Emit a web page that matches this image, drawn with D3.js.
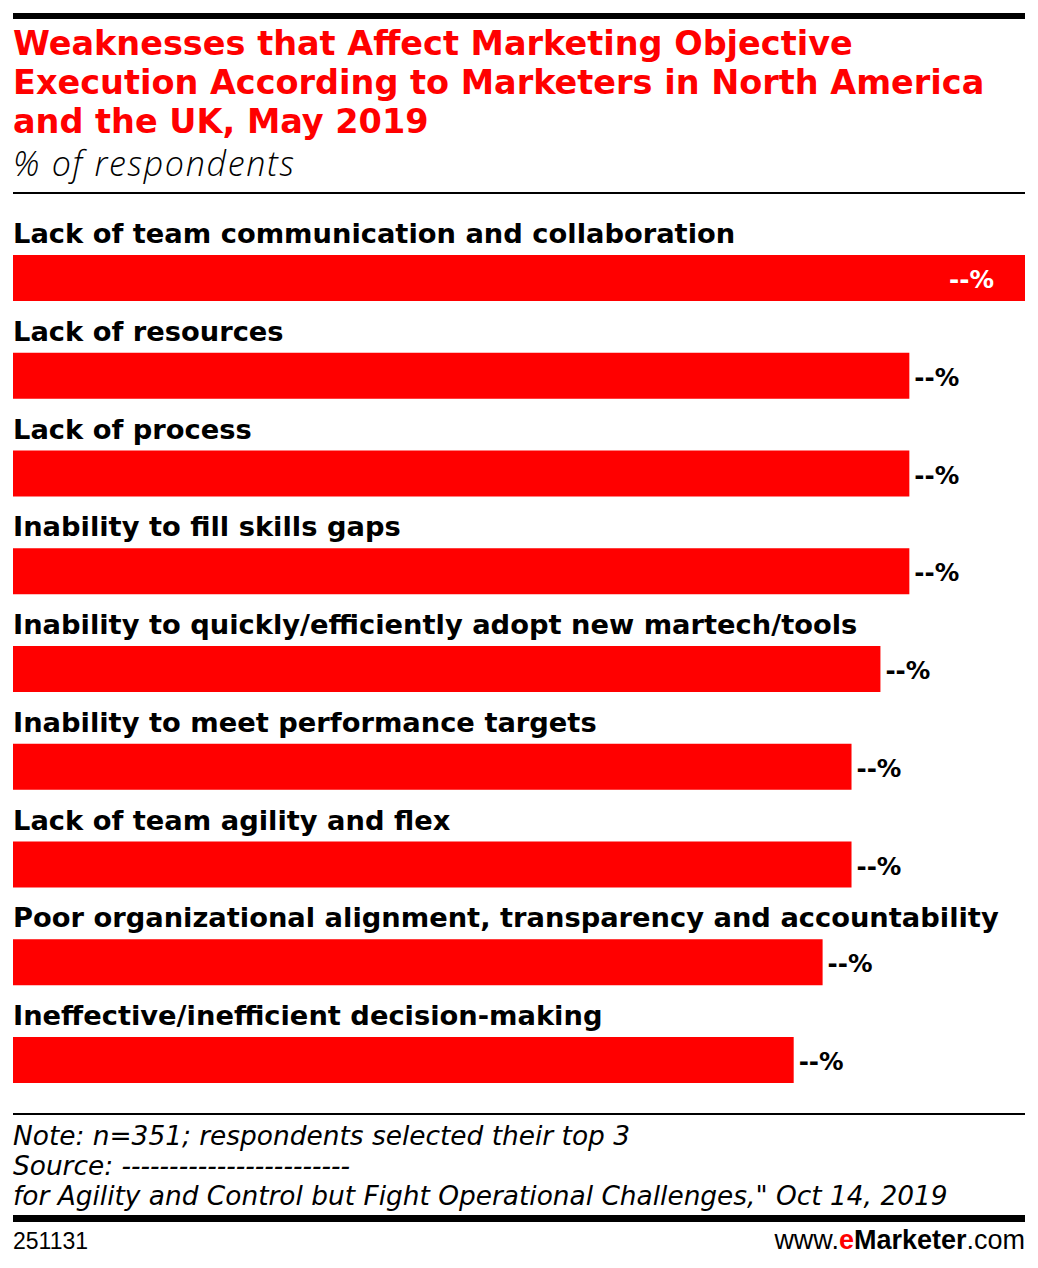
<!DOCTYPE html>
<html><head><meta charset="utf-8">
<script src="https://cdn.jsdelivr.net/npm/d3@7"></script>
<style>
html,body{margin:0;padding:0;background:#fff;}
svg{display:block;}
</style></head>
<body>
<script>
const titleLines = ["Weaknesses that Affect Marketing Objective","Execution According to Marketers in North America","and the UK, May 2019"];
const subtitle = "% of respondents";
const categories = [
  "Lack of team communication and collaboration",
  "Lack of resources",
  "Lack of process",
  "Inability to fill skills gaps",
  "Inability to quickly/efficiently adopt new martech/tools",
  "Inability to meet performance targets",
  "Lack of team agility and flex",
  "Poor organizational alignment, transparency and accountability",
  "Ineffective/inefficient decision-making"
];
const values = [35, 31, 31, 31, 30, 29, 29, 28, 27];
const valueLabels = ["--%","--%","--%","--%","--%","--%","--%","--%","--%"];
const noteLines = ["Note: n=351; respondents selected their top 3","Source: ------------------------","for Agility and Control but Fight Operational Challenges,\" Oct 14, 2019"];
const chartId = "251131";

const W = 1038, H = 1268, L = 13, R = 1025;
const svg = d3.select("body").append("svg").attr("width", W).attr("height", H);

svg.append("rect").attr("x", L).attr("y", 13).attr("width", R - L).attr("height", 6).attr("fill", "#000");

const boldFont = "'DejaVu Sans', Verdana, sans-serif";
svg.append("g").selectAll("text").data(titleLines).join("text")
  .attr("x", L).attr("y", (d, i) => 55 + i * 39)
  .attr("font-family", boldFont).attr("font-weight", "bold").attr("font-size", 33.5)
  .attr("fill", "#ff0000").text(d => d);

svg.append("text").attr("x", L).attr("y", 176)
  .attr("font-family", "'Open Sans', 'Noto Sans', sans-serif").attr("font-style", "italic").attr("font-weight", 300)
  .attr("font-size", 34).attr("letter-spacing", 1.7).attr("fill", "#000").text(subtitle);

svg.append("rect").attr("x", L).attr("y", 192).attr("width", R - L).attr("height", 2).attr("fill", "#000");

const x = d3.scaleLinear().domain([0, 35]).range([L, R]);
const y = d3.scaleBand().domain(categories).range([255, 1083]).paddingInner(1 - 46 / 97.75).paddingOuter(0);

const rows = svg.append("g").selectAll("g").data(categories).join("g");
rows.append("text").attr("x", L).attr("y", d => y(d) - 12)
  .attr("font-family", boldFont).attr("font-weight", "bold").attr("font-size", 27.3)
  .attr("fill", "#000").text(d => d);
rows.append("rect").attr("x", x(0)).attr("y", d => y(d))
  .attr("width", (d, i) => x(values[i]) - x(0)).attr("height", y.bandwidth()).attr("fill", "#ff0000");
rows.append("text")
  .attr("x", (d, i) => i === 0 ? x(values[i]) - 31 : x(values[i]) + 5)
  .attr("y", d => y(d) + 33)
  .attr("text-anchor", (d, i) => i === 0 ? "end" : "start")
  .attr("font-family", boldFont).attr("font-weight", "bold").attr("font-size", 24.5)
  .attr("fill", (d, i) => i === 0 ? "#fff" : "#000").text((d, i) => valueLabels[i]);

svg.append("rect").attr("x", L).attr("y", 1113).attr("width", R - L).attr("height", 2).attr("fill", "#000");

svg.append("g").selectAll("text").data(noteLines).join("text")
  .attr("x", L).attr("y", (d, i) => 1145 + i * 30)
  .attr("font-family", "'DejaVu Sans', Verdana, sans-serif").attr("font-style", "italic").attr("font-size", 26.4)
  .attr("fill", "#000").text(d => d);

svg.append("rect").attr("x", L).attr("y", 1215).attr("width", R - L).attr("height", 7).attr("fill", "#000");

const sans = "'Liberation Sans', Arial, sans-serif";
svg.append("text").attr("x", L).attr("y", 1249).attr("font-family", sans).attr("font-size", 23)
  .attr("fill", "#000").text(chartId);

const brand = svg.append("text").attr("x", R).attr("y", 1249).attr("text-anchor", "end")
  .attr("font-family", sans).attr("font-size", 27).attr("fill", "#000");
brand.append("tspan").text("www.");
brand.append("tspan").attr("font-weight", "bold").attr("fill", "#ff0000").text("e");
brand.append("tspan").attr("font-weight", "bold").text("Marketer");
brand.append("tspan").text(".com");
</script>
</body></html>
